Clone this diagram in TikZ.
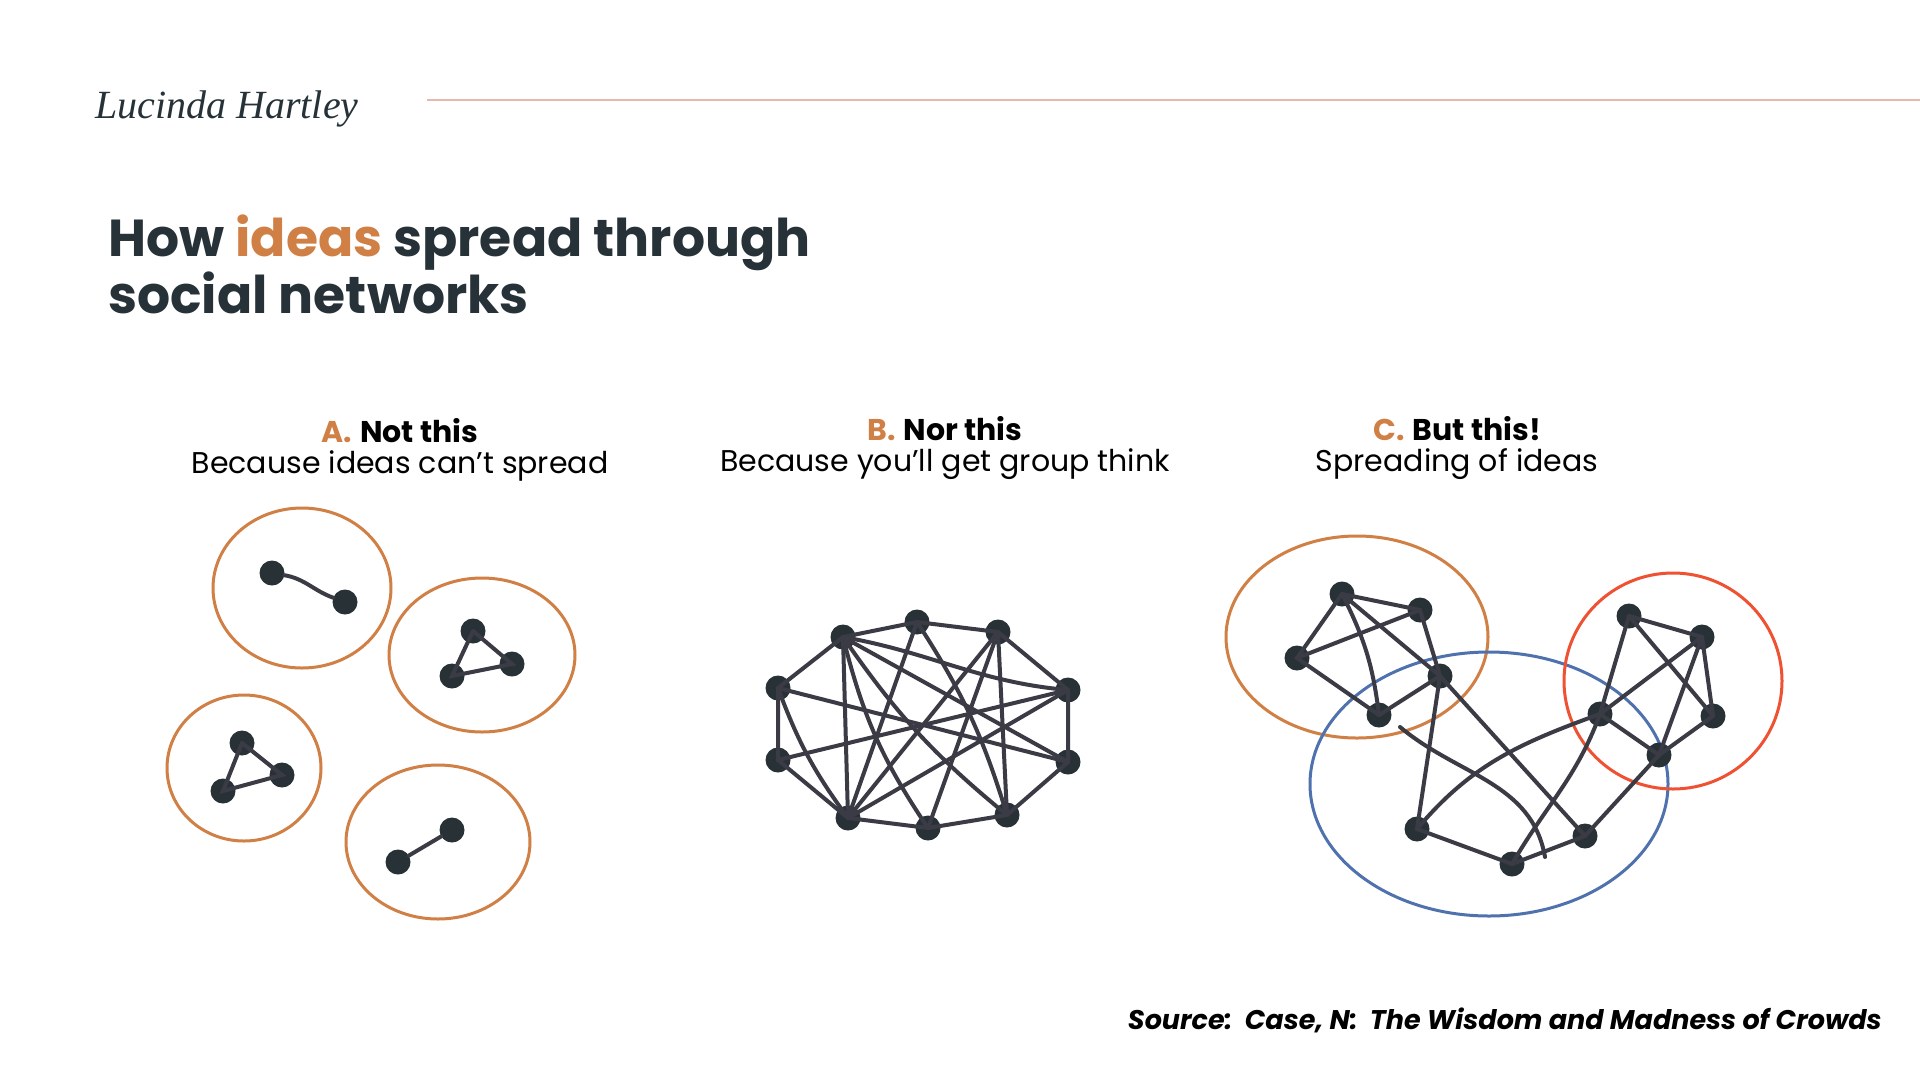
\documentclass[tikz,border=0pt]{standalone}
\usepackage{fontspec}
\setmainfont{Poppins}
\newfontfamily\sigfont{Liberation Serif}
\definecolor{ttl}{HTML}{263238}
\definecolor{orng}{HTML}{D07F45}
\definecolor{dot}{HTML}{283136}
\definecolor{edg}{HTML}{3B3B46}
\definecolor{blu}{HTML}{4F72AE}
\definecolor{rd}{HTML}{EE5233}
\definecolor{rule}{HTML}{E5B8B0}
\tikzset{
  pt/.style={circle,fill=dot,inner sep=0pt,minimum size=25pt},
  ed/.style={draw=edg,line width=4pt,line cap=round},
  ring/.style={line width=3pt},
  hd/.style={font=\fontsize{30}{34}\selectfont,anchor=base,inner sep=0pt}
}
\begin{document}
\begin{tikzpicture}[x=1pt,y=-1pt]
\useasboundingbox (0,0) rectangle (1920,1080);
\fill[white] (0,0) rectangle (1920,1080);
\node[anchor=base west,inner sep=0pt,font=\sigfont\itshape\fontsize{40}{40}\selectfont,text=ttl] (sig) at (95,118) {Lucinda Hartley};
\coordinate (r1) at (427,100); \coordinate (r2) at (1920,100);
\draw[rule,line width=1.5pt] (r1) -- (r2);
\node[anchor=base west,inner sep=0pt,align=left,text=ttl,font=\bfseries\fontsize{52}{53}\selectfont] (title) at (108,313) {How \textcolor{orng}{ideas} spread through\\social networks};
\node[hd] (ha) at (400,442) {\textcolor{orng}{\bfseries A.} \bfseries Not this};
\node[hd] (sa) at (400,473) {Because ideas can’t spread};
\node[hd] (hb) at (945,440) {\textcolor{orng}{\bfseries B.} \bfseries Nor this};
\node[hd] (sb) at (945,471) {Because you’ll get group think};
\node[hd] (hc) at (1457,440) {\textcolor{orng}{\bfseries C.} \bfseries But this!};
\node[hd] (scc) at (1457,471) {Spreading of ideas};
\node[anchor=base east,inner sep=0pt,font=\bfseries\itshape\fontsize{27}{30}\selectfont] (src) at (1882,1029) {Source:\ \ Case, N:\ \ The Wisdom and Madness of Crowds};
% A
\draw[orng,ring] (302,588) ellipse [x radius=89,y radius=80];
\draw[orng,ring] (482,655) ellipse [x radius=93,y radius=77];
\draw[orng,ring] (244,768) ellipse [x radius=77,y radius=73];
\draw[orng,ring] (438,842) ellipse [x radius=92,y radius=77];
\node[pt] (a1) at (272,573) {}; \node[pt] (a2) at (345,602) {};
\node[pt] (b1) at (473,631) {}; \node[pt] (b2) at (512,664) {}; \node[pt] (b3) at (452,676) {};
\node[pt] (d1) at (242,743) {}; \node[pt] (d2) at (282,775) {}; \node[pt] (d3) at (223,791) {};
\node[pt] (e1) at (452,830) {}; \node[pt] (e2) at (398,862) {};
\draw[ed] (a1) to[out=-10,in=160] (a2);
\draw[ed] (b1.center)--(b2.center)--(b3.center)--(b1.center);
\draw[ed] (d1.center)--(d2.center)--(d3.center)--(d1.center);
\draw[ed] (e1)--(e2);
% B
\node[pt] (n1) at (843,637) {}; \node[pt] (n2) at (917,622) {}; \node[pt] (n3) at (998,632) {};
\node[pt] (n4) at (778,688) {}; \node[pt] (n5) at (1068,690) {};
\node[pt] (n6) at (778,760) {}; \node[pt] (n7) at (1068,762) {};
\node[pt] (n8) at (848,818) {}; \node[pt] (n9) at (928,828) {}; \node[pt] (n10) at (1007,815) {};
\draw[ed] (n1.center)--(n2.center)--(n3.center)--(n5.center)--(n7.center)--(n10.center)--(n9.center)--(n8.center)--(n6.center)--(n4.center)--(n1.center);
\draw[ed] (n1.center)--(n8.center);
\draw[ed] (n1.center) to[bend right=10] (n9.center);
\draw[ed] (n1.center)--(n7.center);
\draw[ed] (n1.center) to[out=-10,in=175] (n5.center);
\draw[ed] (n1.center) to[bend right=8] (n10.center);
\draw[ed] (n2.center)--(n8.center);
\draw[ed] (n2.center) to[bend left=8] (n10.center);
\draw[ed] (n3.center)--(n8.center);
\draw[ed] (n3.center)--(n9.center);
\draw[ed] (n3.center)--(n10.center);
\draw[ed] (n4.center)--(n7.center);
\draw[ed] (n4.center) to[bend right=8] (n8.center);
\draw[ed] (n6.center)--(n5.center);
\draw[ed] (n8.center)--(n5.center);
% C
\draw[orng,ring] (1357,637) ellipse [x radius=131,y radius=101];
\draw[blu,ring] (1489,784) ellipse [x radius=179,y radius=132];
\draw[rd,ring] (1673,681) ellipse [x radius=109,y radius=108];
\node[pt] (c1) at (1342,594) {}; \node[pt] (c2) at (1420,610) {}; \node[pt] (c3) at (1297,658) {};
\node[pt] (c4) at (1440,676) {}; \node[pt] (c5) at (1379,715) {};
\node[pt] (c6) at (1629,616) {}; \node[pt] (c7) at (1702,637) {}; \node[pt] (c8) at (1600,714) {};
\node[pt] (c9) at (1713,716) {}; \node[pt] (c10) at (1659,755) {};
\node[pt] (c11) at (1417,829) {}; \node[pt] (c12) at (1512,864) {}; \node[pt] (c13) at (1585,836) {};
\coordinate (l1) at (1400,727); \coordinate (l2) at (1545,857);
\draw[ed] (c1.center)--(c2.center)--(c4.center)--(c5.center)--(c3.center)--(c1.center);
\draw[ed] (c1.center) to[bend left=10] (c5.center);
\draw[ed] (c1.center)--(c4.center);
\draw[ed] (c3.center)--(c2.center);
\draw[ed] (c6.center)--(c7.center)--(c9.center)--(c10.center)--(c8.center)--(c6.center);
\draw[ed] (c6.center)--(c9.center);
\draw[ed] (c7.center)--(c8.center);
\draw[ed] (c7.center)--(c10.center);
\draw[ed] (c4.center)--(c11.center);
\draw[ed] (c4.center)--(c13.center);
\draw[ed] (c11.center)--(c12.center)--(c13.center);
\draw[ed] (c11.center) to[out=50,in=200] (c8.center);
\draw[ed] (c12.center) to[out=60,in=250] (c8.center);
\draw[ed] (c13.center)--(c10.center);
\draw[ed] (l1) to[out=-40,in=100] (l2);
\end{tikzpicture}
\end{document}
